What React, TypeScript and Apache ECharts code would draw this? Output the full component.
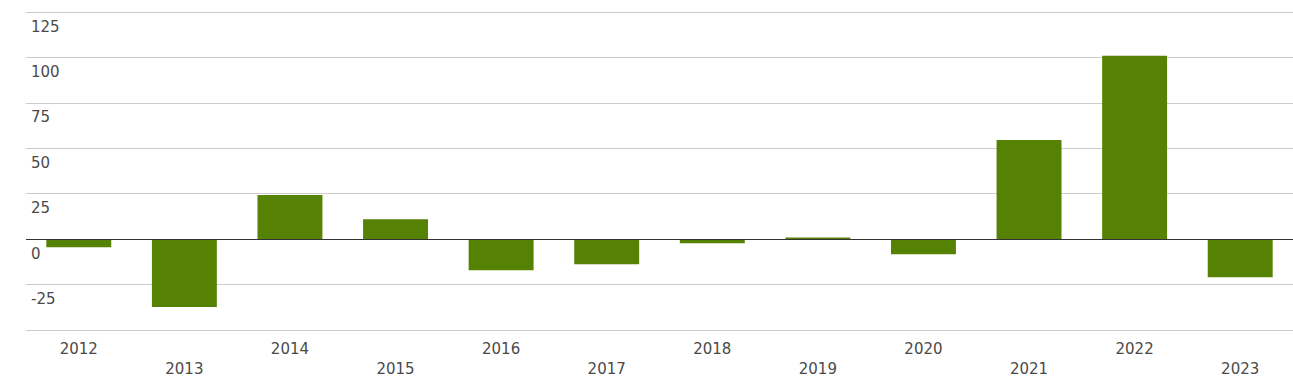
import React, { useEffect, useRef } from "react";
import * as echarts from "echarts";

const years = ["2012", "2013", "2014", "2015", "2016", "2017", "2018", "2019", "2020", "2021", "2022", "2023"];
const values = [-4.4, -37.3, 24.3, 11.0, -17.1, -13.8, -2.2, 0.9, -8.3, 54.6, 100.9, -21.0];
const yMin = -50;
const yMax = 125;
const yStep = 25;

export default function App() {
  const ref = useRef<HTMLDivElement>(null);
  useEffect(() => {
    document.body.style.margin = "0";
    const chart = echarts.init(ref.current!, null, { renderer: "svg" });
    chart.setOption({
      animation: false,
      grid: { left: 26, right: 0, top: 12, bottom: 54, containLabel: false },
      xAxis: {
        type: "category",
        data: years,
        axisLine: { show: false },
        axisTick: { show: false },
        axisLabel: {
          interval: 0,
          margin: 9,
          fontFamily: "DejaVu Sans",
          fontSize: 15,
          lineHeight: 20,
          color: "#4a4a4a",
          verticalAlign: "top",
          formatter: (v: string, i: number) => (i % 2 ? "\n" + v : v),
        },
      },
      yAxis: {
        type: "value",
        min: yMin,
        max: yMax,
        interval: yStep,
        axisLine: { show: false },
        axisTick: { show: false },
        splitLine: { lineStyle: { color: "#cccccc", width: 1 } },
        axisLabel: {
          inside: true,
          margin: 5,
          align: "left",
          verticalAlign: "top",
          padding: [7, 0, 0, 0],
          fontFamily: "DejaVu Sans",
          fontSize: 15,
          color: "#4a4a4a",
          formatter: (v: number) => (v === yMin ? "" : String(v)),
        },
      },
      series: [
        {
          type: "bar",
          data: values,
          barWidth: "61.5%",
          itemStyle: { color: "#568203" },
          markLine: {
            silent: true,
            symbol: "none",
            label: { show: false },
            lineStyle: { color: "#333", type: "solid", width: 1 },
            data: [{ yAxis: 0 }],
          },
        },
      ],
    });
    return () => chart.dispose();
  }, []);
  return <div ref={ref} style={{ position: "absolute", left: 0, top: 0, width: 1293, height: 384 }} />;
}
